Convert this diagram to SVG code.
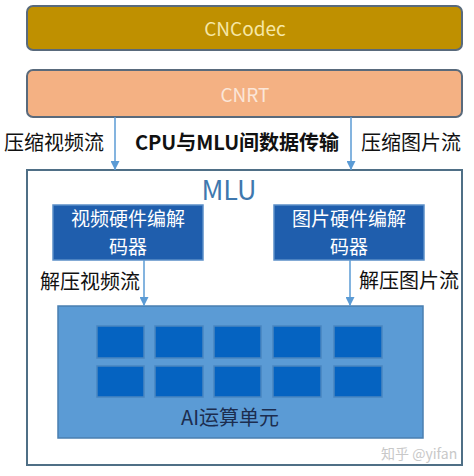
<svg xmlns="http://www.w3.org/2000/svg" width="474" height="476" viewBox="0 0 474 476">
<defs>
<style>
.t{font-family:"Noto Sans CJK SC","Noto Sans",sans-serif;}
.lbl{font-size:20px;fill:#111;}
.sq{fill:#0563C1;stroke:#4a86c0;stroke-width:1.5;}
.ar{stroke:#5b9bd5;stroke-width:1.5;fill:none;}
</style>
<marker id="ah" viewBox="0 0 10 10" refX="10" refY="5" markerWidth="9" markerHeight="9" orient="auto" markerUnits="userSpaceOnUse">
<path d="M0,0 L10,5 L0,10 z" fill="#5b9bd5"/>
</marker>
</defs>
<rect width="474" height="476" fill="#fff"/>
<g id="cncodec">
<rect x="27" y="6" width="435" height="44" rx="6" fill="#BF9000" stroke="#596a7c" stroke-width="2"/>
<text class="t" x="245" y="36" font-size="19" fill="#f6e7a6" text-anchor="middle">CNCodec</text>
</g>
<g id="cnrt">
<rect x="27" y="70" width="435" height="47" rx="6" fill="#F4B183" stroke="#596a7c" stroke-width="2"/>
<text class="t" x="245" y="102" font-size="19" fill="#fbe6d8" text-anchor="middle">CNRT</text>
</g>
<g id="mlu">
<rect x="27" y="170" width="435" height="295" fill="#fff" stroke="#4f6f86" stroke-width="2"/>
<text class="t" x="229" y="200" font-size="27" fill="#3f78ae" text-anchor="middle">MLU</text>
</g>
<g id="video-decoder">
<rect x="53" y="205" width="150" height="55" fill="#1F5EAD" stroke="#5b8fc8" stroke-width="1.5"/>
<text class="t" font-size="19" fill="#fff" text-anchor="middle"><tspan x="128" y="226">视频硬件编解</tspan><tspan x="128" y="254">码器</tspan></text>
</g>
<g id="image-decoder">
<rect x="274" y="205" width="150" height="55" fill="#1F5EAD" stroke="#5b8fc8" stroke-width="1.5"/>
<text class="t" font-size="19" fill="#fff" text-anchor="middle"><tspan x="349" y="226">图片硬件编解</tspan><tspan x="349" y="254">码器</tspan></text>
</g>
<g id="ai-unit">
<rect x="58" y="306" width="365" height="132" fill="#5B9BD5" stroke="#4a7fb0" stroke-width="1.5"/>
<rect class="sq" x="97" y="326" width="47" height="32"/>
<rect class="sq" x="155" y="326" width="48" height="32"/>
<rect class="sq" x="214" y="326" width="47" height="32"/>
<rect class="sq" x="273" y="326" width="48" height="32"/>
<rect class="sq" x="334" y="326" width="48" height="32"/>
<rect class="sq" x="97" y="366" width="47" height="31"/>
<rect class="sq" x="155" y="366" width="48" height="31"/>
<rect class="sq" x="214" y="366" width="47" height="31"/>
<rect class="sq" x="273" y="366" width="48" height="31"/>
<rect class="sq" x="334" y="366" width="48" height="31"/>
<text class="t" x="230" y="425" font-size="20" fill="#1c2d4f" text-anchor="middle">AI运算单元</text>
</g>
<g id="connectors">
<line class="ar" x1="115" y1="117" x2="115" y2="170" marker-end="url(#ah)"/>
<line class="ar" x1="351" y1="117" x2="351" y2="170" marker-end="url(#ah)"/>
<line class="ar" x1="144" y1="260" x2="144" y2="306" marker-end="url(#ah)"/>
<line class="ar" x1="350" y1="260" x2="350" y2="306" marker-end="url(#ah)"/>
</g>
<g id="labels">
<text class="t lbl" x="4" y="150">压缩视频流</text>
<text class="t" x="237" y="150" font-size="20" font-weight="bold" fill="#111" text-anchor="middle">CPU与MLU间数据传输</text>
<text class="t lbl" x="361" y="150">压缩图片流</text>
<text class="t lbl" x="40" y="289">解压视频流</text>
<text class="t lbl" x="359" y="288">解压图片流</text>
<text class="t" x="381" y="459" font-size="14" fill="#c8c8c8">知乎 @yifan</text>
</g>
</svg>
